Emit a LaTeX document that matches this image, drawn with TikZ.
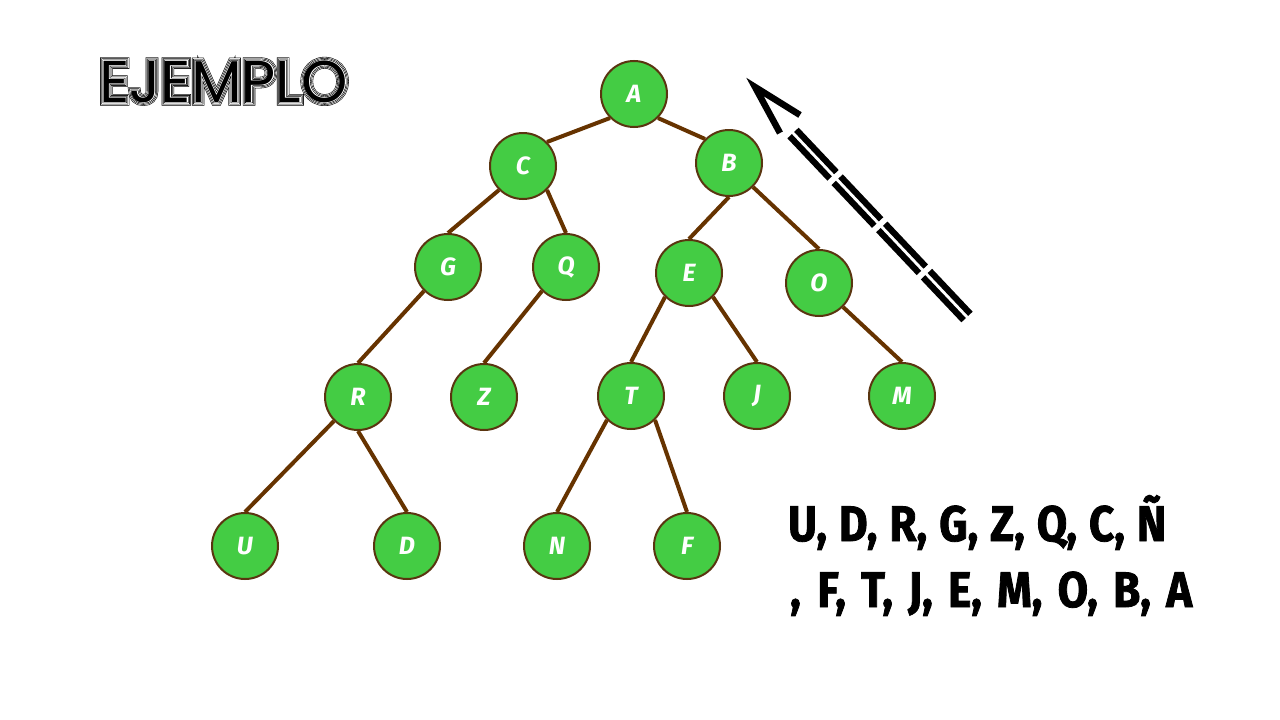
\documentclass[tikz,border=0pt]{standalone}
\usepackage{fontspec}
\newfontfamily\nodefont{Fira Sans}
\newfontfamily\listfont[FakeStretch=0.88,FakeBold=1.6]{Fira Sans}
\newfontfamily\titleA[FakeBold=12]{Poppins}
\newfontfamily\titleB[FakeBold=10]{Poppins}
\newfontfamily\titleC[FakeBold=8]{Poppins}
\newfontfamily\titleD[FakeBold=6]{Poppins}
\newfontfamily\titleE[FakeBold=4]{Poppins}
\newfontfamily\titleF[FakeBold=2]{Poppins}
\newfontfamily\titleG{Poppins}
\definecolor{leaf}{HTML}{44CC44}
\definecolor{rim}{HTML}{5A3510}
\definecolor{branch}{HTML}{663300}
\tikzset{
  vtx/.style={circle,fill=leaf,draw=rim,line width=2pt,minimum size=66pt,inner sep=0pt,
    text=white,font=\nodefont\itshape\bfseries\fontsize{25}{25}\selectfont},
  edge/.style={draw=branch,line width=4pt},
  listtxt/.style={font=\listfont\bfseries\fontsize{50}{50}\selectfont,anchor=base west,inner sep=0pt},
  ttl/.style={anchor=base west,inner sep=0pt},
  shaft/.style={line width=6.2pt,dash pattern=on 59pt off 6pt,draw=black},
}
\newcommand\ttlsz{\fontsize{59}{59}\selectfont}
\begin{document}
\begin{tikzpicture}[x=1pt,y=-1pt]
\useasboundingbox[fill=white] (0,0) rectangle (1280,720);
\node[vtx] (A) at (634,94) {A};
\node[vtx] (C) at (523,166) {C};
\node[vtx] (B) at (729,163) {B};
\node[vtx] (G) at (448,267) {G};
\node[vtx] (Q) at (566,267) {Q};
\node[vtx] (E) at (689,273) {E};
\node[vtx] (O) at (819,283) {O};
\node[vtx] (R) at (358,397) {R};
\node[vtx] (Z) at (484,397) {Z};
\node[vtx] (T) at (631,396) {T};
\node[vtx] (J) at (757,396) {J};
\node[vtx] (M) at (902,396) {M};
\node[vtx] (U) at (245,546) {U};
\node[vtx] (D) at (407,546) {D};
\node[vtx] (N) at (557,546) {N};
\node[vtx] (F) at (687,546) {F};
\foreach \a/\b in {A.south west/C.north east, A.south east/B.north west,
  C.south west/G.north, C.south east/Q.north, B.south/E.north, B.south east/O.north,
  G.south west/R.north, Q.south west/Z.north, E.south west/T.north, E.south east/J.north,
  O.south east/M.north, R.south west/U.north, R.south/D.north, T.south west/N.north, T.south east/F.north}
  \draw[edge] (\a) -- (\b);
% title (concentric stripes)
\coordinate (tp) at (99,102);
\node[ttl,text=black] (t1) at (tp) {\titleA\ttlsz EJEMPLO};
\node[ttl,text=white] (t2) at (tp) {\titleB\ttlsz EJEMPLO};
\node[ttl,text=black] (t3) at (tp) {\titleC\ttlsz EJEMPLO};
\node[ttl,text=white] (t4) at (tp) {\titleD\ttlsz EJEMPLO};
\node[ttl,text=black] (t5) at (tp) {\titleE\ttlsz EJEMPLO};
\node[ttl,text=white] (t6) at (tp) {\titleF\ttlsz EJEMPLO};
\node[ttl,text=black] (t7) at (tp) {\titleG\ttlsz EJEMPLO};
% arrow
\coordinate (tail) at (967,317);
\coordinate (shaftend) at (793,133);
\coordinate (tip) at (755,87);
\coordinate (arm1) at (800,115);
\coordinate (arm2) at (780,133);
\draw[shaft] ([shift={(3.4,-3.2)}]tail) -- ([shift={(3.4,-3.2)}]shaftend);
\draw[shaft] ([shift={(-3.4,3.2)}]tail) -- ([shift={(-3.4,3.2)}]shaftend);
\draw[line width=6.5pt] (arm1) -- (tip) -- (arm2);
% list
\node[listtxt] (l1) at (788,541) {\makebox[378pt][s]{U, D, R, G, Z, Q, C, Ñ}};
\node[listtxt] (l2) at (790,607) {\makebox[402pt][s]{, F, T, J, E, M, O, B, A}};
\end{tikzpicture}
\end{document}
